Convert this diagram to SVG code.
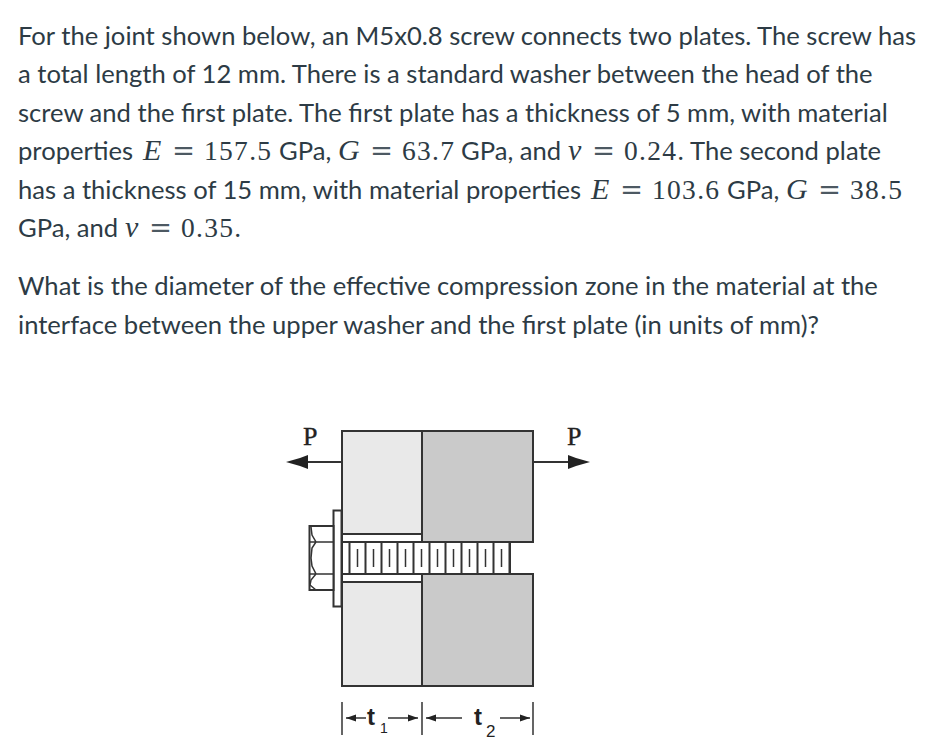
<svg xmlns="http://www.w3.org/2000/svg" width="930" height="740" viewBox="0 0 930 740">
<style>
.t{font-family:Lato,"Open Sans",sans-serif;font-size:25.6px;fill:#2d3b45}
.m{font-family:"Liberation Serif","DejaVu Serif",serif;font-size:27.500px;letter-spacing:1.300px;fill:#2d3b45}
.e{font-family:"DejaVu Serif",serif;font-size:27.500px;fill:#2d3b45;fill-opacity:.85}
.i{font-family:"Liberation Serif",serif;font-style:italic;font-size:30px;fill:#2d3b45}
.l{stroke:#333;stroke-width:2;fill:none}
.a{stroke:#333;stroke-width:2;fill:#e9e9e9}
.b{stroke:#333;stroke-width:2;fill:#cacaca}
.w{stroke:#333;stroke-width:2;fill:#fff}
.d{stroke:#333;stroke-width:1.500;fill:none}
.h{fill:#222}
.p{font-family:"Liberation Serif",serif;font-size:26px;fill:#222;stroke:#222;stroke-width:.4}
.s{font-family:"Liberation Sans",sans-serif;fill:#222}
</style>
<rect width="930" height="740" fill="#fff"/>
<g id="question">
<text class="t" x="18" y="45">For the joint shown below, an M5x0.8 screw connects two plates. The screw has</text>
<text class="t" x="18" y="83">a total length of 12 mm. There is a standard washer between the head of the</text>
<text class="t" x="18" y="122">screw and the first plate. The first plate has a thickness of 5 mm, with material</text>
<text class="t" x="18" y="160">properties</text>
<text class="i" x="143" y="160">E</text><text class="e" x="172" y="160">=</text><text class="m" x="204" y="160">157.5</text>
<text class="t" x="279" y="160">GPa,</text>
<text class="i" x="338" y="160">G</text><text class="e" x="370" y="160">=</text><text class="m" x="402" y="160">63.7</text>
<text class="t" x="461" y="160">GPa, and</text>
<text class="i" x="568" y="160">ν</text><text class="e" x="592" y="160">=</text><text class="m" x="624" y="160">0.24.</text>
<text class="t" x="690" y="160">The second plate</text>
<text class="t" x="18" y="199">has a thickness of 15 mm, with material properties</text>
<text class="i" x="591" y="199">E</text><text class="e" x="620" y="199">=</text><text class="m" x="652" y="199">103.6</text>
<text class="t" x="727" y="199">GPa,</text>
<text class="i" x="786" y="199">G</text><text class="e" x="818" y="199">=</text><text class="m" x="850" y="199">38.5</text>
<text class="t" x="18" y="237">GPa, and</text>
<text class="i" x="125" y="237">ν</text><text class="e" x="149" y="237">=</text><text class="m" x="181" y="237">0.35.</text>
<text class="t" x="18" y="295">What is the diameter of the effective compression zone in the material at the</text>
<text class="t" x="18" y="334">interface between the upper washer and the first plate (in units of mm)?</text>
</g>
<g id="plates">
<rect class="a" x="342" y="431" width="80" height="103"/>
<rect class="b" x="422" y="431" width="111" height="111"/>
<rect class="a" x="342" y="582" width="80" height="104"/>
<rect class="b" x="422" y="574" width="111" height="112"/>
</g>
<g id="screw">
<path class="w" d="M342 534H422V542H342ZM342 574H422V582H342Z"/>
<rect class="w" x="342" y="542" width="168" height="32"/>
<path class="l" d="M349.500 542V574M365.500 542V574M381.500 542V574M397.500 542V574M413.500 542V574M429.500 542V574M445.500 542V574M461.500 542V574M477.500 542V574M493.500 542V574M509.500 542V574"/>
<path class="d" d="M357.500 549V567M373.500 549V567M389.500 549V567M405.500 549V567M421.500 549V567M437.500 549V567M453.500 549V567M469.500 549V567M485.500 549V567M501.500 549V567"/>
<rect class="w" x="333.500" y="510.500" width="8" height="96"/>
<rect class="w" x="309.500" y="526" width="24" height="64"/>
<path class="d" d="M309.500 542H333M309.500 574H333M311 527L312 535L316 542L312 548L311 558L312 566L316 574L311 580L310 585L316 590"/>
</g>
<g id="loads">
<path class="l" d="M342 462H306M533 462H570"/>
<path class="h" d="M286 462L300 458L308 455V469L300 466Z"/>
<path class="h" d="M590 462L576 458L568 455V469L576 466Z"/>
<text class="p" x="303" y="445">P</text>
<text class="p" x="567" y="445">P</text>
</g>
<g id="dimensions">
<path class="d" d="M342 702V735M422 702V735M533 702V735M346 718H366M388 718H418M426 718H462M500 718H530"/>
<path class="h" d="M346 718L356 714.500V721.500ZM418 718L408 714.500V721.500ZM426 718L436 714.500V721.500ZM530 718L520 714.500V721.500Z"/>
<text class="s" x="367" y="725" font-size="24" font-weight="bold">t</text>
<text class="s" x="380" y="733" font-size="14">1</text>
<text class="s" x="474" y="725" font-size="24" font-weight="bold">t</text>
<text class="s" x="486" y="737" font-size="17">2</text>
</g>
</svg>
